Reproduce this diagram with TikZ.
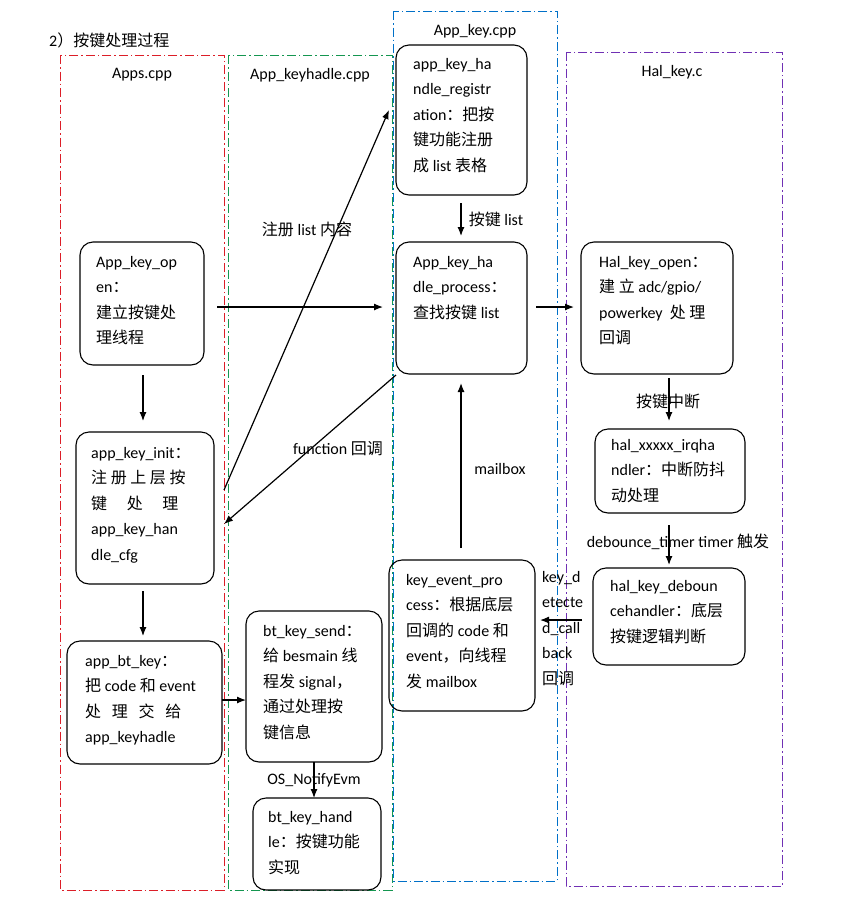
\documentclass[tikz,border=0pt]{standalone}
\usepackage{fontspec}
\setmainfont{Carlito}
\newfontfamily\cjkf{Noto Sans CJK SC}
\newcommand{\zh}[1]{{\cjkf #1}}
\usetikzlibrary{arrows.meta}
\definecolor{fred}{RGB}{220,30,40}
\definecolor{fgreen}{RGB}{20,150,80}
\definecolor{fblue}{RGB}{0,112,200}
\definecolor{fviolet}{RGB}{112,48,180}
\begin{document}
\begin{tikzpicture}[x=1pt,y=-1pt,
  frame/.style={dash pattern=on 9pt off 3pt on 1.5pt off 3pt, line width=1pt},
  bx/.style={rounded corners=13pt, line width=1.1pt},
  arr/.style={-{Latex[length=9pt,width=7pt]}, line width=1.2pt},
  lab/.style={font=\fontsize{16}{25.5}\selectfont, inner sep=1pt}]
\useasboundingbox (0,0) rectangle (850,906);
\fill[white] (0,0) rectangle (850,906);
\node[lab, anchor=west] (title) at (48,40) {2\zh{）按键处理过程}};
% frames
\draw[frame, fred] (60,55) rectangle (224,890);
\draw[frame, fgreen] (228,55) rectangle (392,890);
\draw[frame, fblue] (393,11) rectangle (557,881);
\draw[frame, fviolet] (566,52) rectangle (782,886);
\node[lab] (t1) at (142,75) {Apps.cpp};
\node[lab] (t2) at (310,75) {App\_keyhadle.cpp};
\node[lab] (t3) at (475,31) {App\_key.cpp};
\node[lab] (t4) at (672,72) {Hal\_key.c};
% boxes
\draw[bx] (80,242) rectangle (204,365);
\node (A1) at (142,303.5) [minimum width=124pt, minimum height=123pt] {};
\node[lab, anchor=north west, align=left] at (95,255) {App\_key\_op\\en\zh{：}\\\zh{建立按键处}\\\zh{理线程}};
\draw[bx] (76,432) rectangle (214,584);
\node (A2) at (145,508) [minimum width=138pt, minimum height=152pt] {};
\node[lab, anchor=north west, align=left] at (90,446) {app\_key\_init\zh{：}\\\zh{注 册 上 层 按}\\\zh{键\quad\ 处\quad\ 理}\\app\_key\_han\\dle\_cfg};
\draw[bx] (67,641) rectangle (222,764);
\node (A3) at (144.5,702.5) [minimum width=155pt, minimum height=123pt] {};
\node[lab, anchor=north west, align=left] at (84,654) {app\_bt\_key\zh{：}\\\zh{把} code \zh{和} event\\\zh{处\ \ \ 理\ \ \ 交\ \ \ 给}\\app\_keyhadle};
\draw[bx] (246,611) rectangle (382,762);
\node (B1) at (314,686.5) [minimum width=136pt, minimum height=151pt] {};
\node[lab, anchor=north west, align=left] at (262,624) {bt\_key\_send\zh{：}\\\zh{给} besmain \zh{线}\\\zh{程发} signal\zh{，}\\\zh{通过处理按}\\\zh{键信息}};
\draw[bx] (253,798) rectangle (381,890);
\node (B2) at (317,844) [minimum width=128pt, minimum height=92pt] {};
\node[lab, anchor=north west, align=left] at (267,810) {bt\_key\_hand\\le\zh{：按键功能}\\\zh{实现}};
\draw[bx] (396,45) rectangle (527,195);
\node (C1) at (461.5,120) [minimum width=131pt, minimum height=150pt] {};
\node[lab, anchor=north west, align=left] at (412,57) {app\_key\_ha\\ndle\_registr\\ation\zh{：把按}\\\zh{键功能注册}\\\zh{成} list \zh{表格}};
\draw[bx] (396,242) rectangle (527,374);
\node (C2) at (461.5,308) [minimum width=131pt, minimum height=132pt] {};
\node[lab, anchor=north west, align=left] at (412,255) {App\_key\_ha\\dle\_process\zh{：}\\\zh{查找按键} list};
\draw[bx] (389,560) rectangle (535,711);
\node (C3) at (462,635.5) [minimum width=146pt, minimum height=151pt] {};
\node[lab, anchor=north west, align=left] at (405,573) {key\_event\_pro\\cess\zh{：根据底层}\\\zh{回调的} code \zh{和}\\event\zh{，向线程}\\\zh{发} mailbox};
\draw[bx] (581,242) rectangle (733,374);
\node (D1) at (657,308) [minimum width=152pt, minimum height=132pt] {};
\node[lab, anchor=north west, align=left] at (598,255) {Hal\_key\_open\zh{：}\\\zh{建\ 立} adc/gpio/\\powerkey\ \ \zh{处\ 理}\\\zh{回调}};
\draw[bx] (595,429) rectangle (745,513);
\node (D2) at (670,471) [minimum width=150pt, minimum height=84pt] {};
\node[lab, anchor=north west, align=left] at (610,438) {hal\_xxxxx\_irqha\\ndler\zh{：中断防抖}\\\zh{动处理}};
\draw[bx] (593,568) rectangle (745,665);
\node (D3) at (669,616.5) [minimum width=152pt, minimum height=97pt] {};
\node[lab, anchor=north west, align=left] at (609,579) {hal\_key\_deboun\\cehandler\zh{：底层}\\\zh{按键逻辑判断}};
% connectors
\coordinate (p1) at (143,375); \coordinate (p2) at (143,421);
\draw[arr] (p1) -- (p2);
\coordinate (p3) at (143,591); \coordinate (p4) at (143,636);
\draw[arr] (p3) -- (p4);
\coordinate (p5) at (222,700); \coordinate (p6) at (246,700);
\draw[arr] (p5) -- (p6);
\coordinate (p7) at (314,762); \coordinate (p8) at (314,798);
\draw[arr] (p7) -- (p8);
\node[lab] (l1) at (314,780) {OS\_NotifyEvm};
\coordinate (p9) at (217,307); \coordinate (p10) at (383,307);
\draw[arr] (p9) -- (p10);
\coordinate (p11) at (224,490); \coordinate (p12) at (389,110);
\draw[arr] (p11) -- (p12);
\node[lab] (l2) at (307,229) {\zh{注册} list \zh{内容}};
\coordinate (p13) at (396,375); \coordinate (p14) at (224,524);
\draw[arr] (p13) -- (p14);
\node[lab] (l3) at (338,449) {function \zh{回调}};
\coordinate (p15) at (461,203); \coordinate (p16) at (461,236);
\draw[arr] (p15) -- (p16);
\node[lab] (l4) at (496,219) {\zh{按键} list};
\coordinate (p17) at (536,307); \coordinate (p18) at (574,307);
\draw[arr] (p17) -- (p18);
\coordinate (p19) at (669,378); \coordinate (p20) at (669,421);
\draw[arr] (p19) -- (p20);
\node[lab] (l5) at (668,401) {\zh{按键中断}};
\coordinate (p21) at (669,525); \coordinate (p22) at (669,565);
\draw[arr] (p21) -- (p22);
\node[lab] (l6) at (678,542) {debounce\_timer timer \zh{触发}};
\coordinate (p23) at (582,620); \coordinate (p24) at (540,620);
\draw[arr] (p23) -- (p24);
\node[lab, anchor=north west, align=left] (l7) at (541,570) {key\_d\\etecte\\d\_call\\back\\\zh{回调}};
\coordinate (p25) at (461,548); \coordinate (p26) at (461,383);
\draw[arr] (p25) -- (p26);
\node[lab] (l8) at (500,469) {mailbox};
\end{tikzpicture}
\end{document}
